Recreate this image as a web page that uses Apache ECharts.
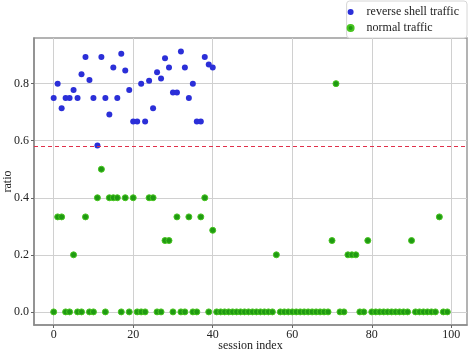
<!DOCTYPE html>
<html>
<head>
<meta charset="utf-8">
<script src="https://cdn.jsdelivr.net/npm/echarts@6/dist/echarts.min.js"></script>
<style>
  html, body { margin: 0; padding: 0; background: #fff; }
  #chart { width: 474px; height: 353px; }
</style>
</head>
<body>
<div id="chart"></div>
<script>
  // ratio per session, reverse shell sessions 0..40
  var shellRatio = [0.75, 0.8, 0.714, 0.75, 0.75, 0.778, 0.75, 0.833, 0.893, 0.813,
    0.75, 0.583, 0.893, 0.75, 0.692, 0.857, 0.75, 0.905, 0.846, 0.778,
    0.667, 0.667, 0.8, 0.667, 0.81, 0.714, 0.84, 0.818, 0.889, 0.857,
    0.769, 0.769, 0.913, 0.857, 0.75, 0.8, 0.667, 0.667, 0.893, 0.867,
    0.857]
  // ratio per session, normal sessions 0..99
  var normalRatio = [0, 0.333, 0.333, 0, 0, 0.2, 0, 0, 0.333, 0,
    0, 0.4, 0.5, 0, 0.4, 0.4, 0.4, 0, 0.4, 0,
    0.4, 0, 0, 0, 0.4, 0.4, 0, 0, 0.25, 0.25,
    0, 0.333, 0, 0, 0.333, 0, 0, 0.333, 0.4, 0,
    0.286, 0, 0, 0, 0, 0, 0, 0, 0, 0,
    0, 0, 0, 0, 0, 0, 0.2, 0, 0, 0,
    0, 0, 0, 0, 0, 0, 0, 0, 0, 0,
    0.25, 0.8, 0, 0, 0.2, 0.2, 0.2, 0, 0, 0.25,
    0, 0, 0, 0, 0, 0, 0, 0, 0, 0,
    0.25, 0, 0, 0, 0, 0, 0, 0.333, 0, 0]
  var threshold = 0.58
  var xTicks = [0, 20, 40, 60, 80, 100]
  var yTicks = [0, 0.2, 0.4, 0.6, 0.8]

  var font = 'Liberation Serif'

  // 把数组下标当作 session index
  function toPoints(arr) {
    return arr.map(function (v, i) { return [i, v] })
  }

  var myChart = echarts.init(document.getElementById('chart'))
  var option = {
    animation: false,
    textStyle: { fontFamily: font },
    grid: {
      left: 34, right: 7, top: 38, bottom: 28,
      outerBoundsMode: 'none',
      containLabel: false,
      show: true, borderColor: '#9a9a9a', borderWidth: 1.5
    },
    legend: {
      orient: 'vertical',
      right: 7, top: 1,
      itemWidth: 22, itemHeight: 6, itemGap: 4,
      padding: [5, 8, 4, 0],
      borderColor: '#d6d6d6', borderWidth: 1, borderRadius: 3,
      backgroundColor: '#fff',
      textStyle: { fontFamily: font, fontSize: 12, color: '#222' },
      data: [
        { name: 'reverse shell traffic', icon: 'circle' },
        { name: 'normal traffic', icon: 'circle' }
      ]
    },
    xAxis: {
      type: 'value',
      min: -4.95, max: 103.95,
      name: 'session index',
      nameLocation: 'middle',
      nameGap: 15,
      nameMoveOverlap: false,
      nameTextStyle: { fontFamily: font, fontSize: 12, color: '#222' },
      axisLine: { show: true, onZero: false, lineStyle: { color: '#8a8a8a', width: 1.5 } },
      axisTick: { show: true, length: 3, customValues: xTicks, lineStyle: { color: '#666' } },
      axisLabel: { customValues: xTicks, margin: 4, fontSize: 12, color: '#222', fontFamily: font },
      splitLine: { show: true, lineStyle: { color: '#d0d0d0', width: 1 } }
    },
    yAxis: {
      type: 'value',
      min: -0.046, max: 0.96,
      name: 'ratio',
      nameLocation: 'middle',
      nameGap: 20,
      nameMoveOverlap: false,
      nameTextStyle: { fontFamily: font, fontSize: 12, color: '#222' },
      axisLine: { show: true, onZero: false, lineStyle: { color: '#8a8a8a', width: 1.5 } },
      axisTick: { show: true, length: 3, customValues: yTicks, lineStyle: { color: '#666' } },
      axisLabel: {
        customValues: yTicks, margin: 5, fontSize: 12, color: '#222', fontFamily: font,
        formatter: function (v) { return v.toFixed(1) }
      },
      splitLine: { show: true, lineStyle: { color: '#d0d0d0', width: 1 } }
    },
    series: [
      {
        name: 'reverse shell traffic',
        type: 'scatter',
        symbolSize: 6,
        itemStyle: { color: '#2b2fd8', opacity: 1 },
        data: toPoints(shellRatio),
        markLine: {
          silent: true,
          symbol: 'none',
          label: { show: false },
          lineStyle: { color: '#e0304a', type: [4, 3], width: 1.2 },
          data: [{ yAxis: threshold }]
        }
      },
      {
        name: 'normal traffic',
        type: 'scatter',
        symbolSize: 6,
        itemStyle: { color: '#1f9a12', borderColor: '#47c41f', borderWidth: 1, opacity: 1 },
        data: toPoints(normalRatio)
      }
    ]
  }
  myChart.setOption(option)
</script>
</body>
</html>
